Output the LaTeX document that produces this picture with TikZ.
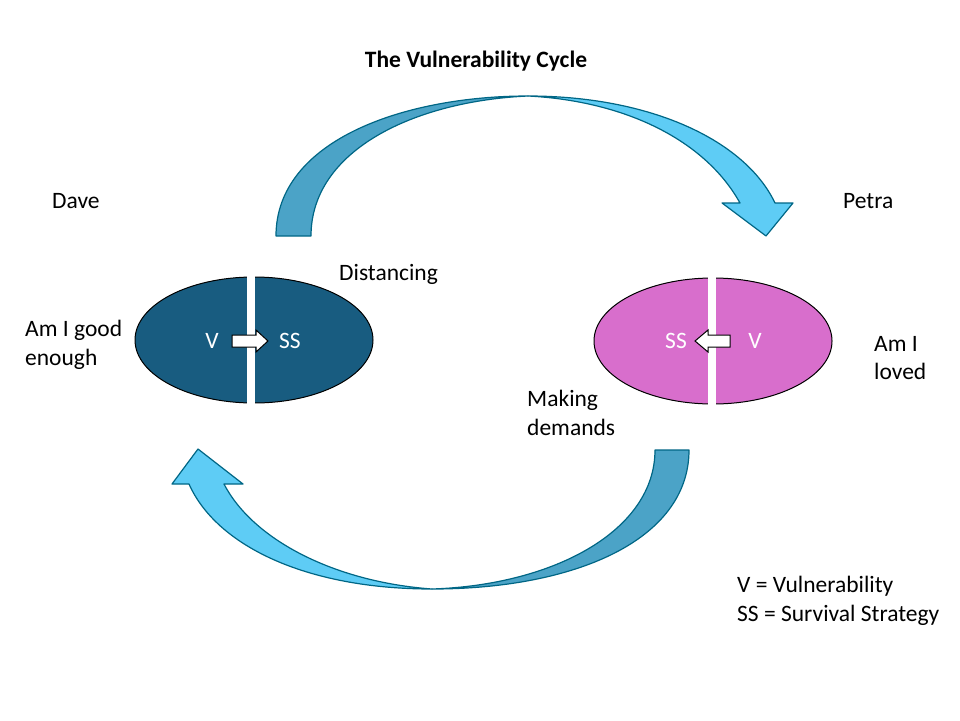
\documentclass[tikz,border=0pt]{standalone}
\usepackage{fontspec}
\setmainfont{Carlito}
\begin{document}
\begin{tikzpicture}[x=1pt,y=-1pt,
  lbl/.style={anchor=west,align=left,inner sep=0pt,font=\fontsize{23.5}{28.5}\selectfont},
  ctr/.style={inner sep=0pt,font=\fontsize{23.5}{28}\selectfont,text=white},
  arr/.style={draw=black!80!blue!60!cyan,line width=1.2pt,line join=round},
  blk/.style={draw=black,line width=1pt,fill=white,line join=miter}]
\definecolor{dk}{HTML}{4BA3C7}
\definecolor{lt}{HTML}{5ECCF5}
\definecolor{navy}{HTML}{185C80}
\definecolor{orch}{HTML}{D86ECC}
\path[use as bounding box] (0,0) rectangle (960,720);
% top arrow
\draw[arr,fill=dk] (276,236) .. controls (276,140) and (405,96) .. (528,96)
  .. controls (415,101) and (311,150) .. (311,236) -- cycle;
\draw[arr,fill=lt] (528,96) .. controls (650,96) and (745,140) .. (775,203) -- (793,203) -- (766,236) -- (722,203) -- (740,203) .. controls (705,140) and (625,101) .. (528,96) -- cycle;
% bottom arrow
\draw[arr,fill=dk] (689,450) .. controls (689,540) and (575,589) .. (432,589)
  .. controls (555,585) and (655,530) .. (655,450) -- cycle;
\draw[arr,fill=lt] (432,589) .. controls (305,589) and (216,545) .. (189,484) -- (172,484) -- (198,449) -- (243,484) -- (224,484) .. controls (253,540) and (335,582) .. (432,589) -- cycle;
% ellipses
\draw[fill=navy,draw=black,line width=1pt] (254,340) ellipse [x radius=119,y radius=63];
\fill[white] (247,276) rectangle (255,404);
\draw[fill=orch,draw=black,line width=1pt] (713,341) ellipse [x radius=119,y radius=63];
\fill[white] (708,276) rectangle (716,405);
% small block arrows
\draw[blk] (232,335) -- (256,335) -- (256,330) -- (268,341) -- (256,352) -- (256,347) -- (232,347) -- cycle;
\draw[blk] (730,335) -- (708,335) -- (708,330) -- (695,341) -- (708,352) -- (708,347) -- (730,347) -- cycle;
\node[ctr] (v1) at (212,341) {V};
\node[ctr] (s1) at (290,341) {SS};
\node[ctr] (s2) at (676,341) {SS};
\node[ctr] (v2) at (755,341) {V};
% labels
\node[inner sep=0pt,font=\fontsize{23.5}{28}\selectfont\bfseries] (t) at (476,61) {The Vulnerability Cycle};
\node[lbl] (dave) at (52,201) {Dave};
\node[lbl] (petra) at (843,201) {Petra};
\node[lbl] (dist) at (339,274) {Distancing};
\node[lbl] (agood) at (25,345) {Am I good\\enough};
\node[lbl] (loved) at (874,358) {Am I\\loved};
\node[lbl] (make) at (527,413) {Making\\demands};
\node[lbl] (key) at (737,601) {V = Vulnerability\\SS = Survival Strategy};
\end{tikzpicture}
\end{document}
